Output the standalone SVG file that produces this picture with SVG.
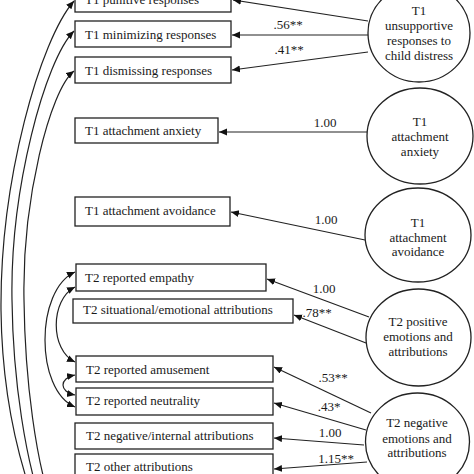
<svg xmlns="http://www.w3.org/2000/svg" width="474" height="474" viewBox="0 0 474 474">
<defs>
<marker id="ah" markerUnits="userSpaceOnUse" markerWidth="9" markerHeight="8" refX="8" refY="3.5" orient="auto-start-reverse" viewBox="0 0 9 8">
<path d="M0,0 L8,3.5 L0,7 z" fill="#111"/>
</marker>
</defs>
<style>
.box{fill:#fff;stroke:#222;stroke-width:1.3}
.lat{fill:#fff;stroke:#222;stroke-width:1.3}
.t{font-family:"Liberation Serif","Times New Roman",serif;font-size:13px;fill:#1a1a1a}
.c{text-anchor:middle}
.ln{fill:none;stroke:#222;stroke-width:1.2}
.one{marker-end:url(#ah)}
.two{marker-start:url(#ah);marker-end:url(#ah)}
</style>
<rect width="474" height="474" fill="#fff"/>

<g id="connectors">
<!-- loadings -->
<path class="ln one" d="M368,21 L233,0"/>
<path class="ln one" d="M368,35 L232,35"/>
<path class="ln one" d="M368,52 L232,70"/>
<path class="ln one" d="M367,132 L219,132"/>
<path class="ln one" d="M365,240 L231,212"/>
<path class="ln one" d="M369,317 L267,279"/>
<path class="ln one" d="M366,343 L294,315"/>
<path class="ln one" d="M371,413 L274,367"/>
<path class="ln one" d="M366,430 L274,403"/>
<path class="ln one" d="M364,445 L274,438"/>
<path class="ln one" d="M367,462 L274,469"/>
<!-- covariances -->
<path class="ln" d="M74,1 C40,40 0,180 1,310 C2,400 20,460 30,490" marker-start="url(#ah)"/>
<path class="ln" d="M74,31 C45,60 10,190 12,300 C13,390 28,460 37,490" marker-start="url(#ah)"/>
<path class="ln" d="M74,71 C50,90 22,200 24,300 C25,390 38,460 47,490" marker-start="url(#ah)"/>
<path class="ln two" d="M75,272 C35,290 35,390 75,407"/>
<path class="ln two" d="M75,287 C50,300 50,350 75,362"/>
<path class="ln two" d="M75,375 C59,378 59,392 75,395"/>
<!-- labels -->
<text class="t c" x="288" y="29">.56**</text>
<text class="t c" x="289" y="54">.41**</text>
<text class="t c" x="325" y="127">1.00</text>
<text class="t c" x="326" y="224">1.00</text>
<text class="t c" x="324" y="293">1.00</text>
<text class="t c" x="317" y="317">.78**</text>
<text class="t c" x="333" y="382">.53**</text>
<text class="t c" x="329" y="411">.43*</text>
<text class="t c" x="330" y="437">1.00</text>
<text class="t c" x="336" y="463">1.15**</text>
</g>

<g id="n-punitive"><rect class="box" x="75" y="-14" width="156" height="26"/><text class="t" x="85" y="4">T1 punitive responses</text></g>
<g id="n-minimizing"><rect class="box" x="75" y="21" width="156" height="26"/><text class="t" x="85" y="39">T1 minimizing responses</text></g>
<g id="n-dismissing"><rect class="box" x="75" y="57" width="156" height="26"/><text class="t" x="85" y="75">T1 dismissing responses</text></g>
<g id="n-anxiety"><rect class="box" x="75" y="118" width="143" height="25"/><text class="t" x="85" y="135">T1 attachment anxiety</text></g>
<g id="n-avoidance"><rect class="box" x="75" y="197" width="155" height="29"/><text class="t" x="85" y="215">T1 attachment avoidance</text></g>
<g id="n-empathy"><rect class="box" x="76" y="264" width="190" height="27"/><text class="t" x="85" y="282">T2 reported empathy</text></g>
<g id="n-situational"><rect class="box" x="73" y="299" width="220" height="24"/><text class="t" x="83" y="314">T2 situational/emotional attributions</text></g>
<g id="n-amusement"><rect class="box" x="76" y="356" width="197" height="26"/><text class="t" x="86" y="374">T2 reported amusement</text></g>
<g id="n-neutrality"><rect class="box" x="76" y="388" width="197" height="27"/><text class="t" x="86" y="405">T2 reported neutrality</text></g>
<g id="n-neginternal"><rect class="box" x="75" y="423" width="198" height="26"/><text class="t" x="86" y="440">T2 negative/internal attributions</text></g>
<g id="n-other"><rect class="box" x="75" y="454" width="198" height="30"/><text class="t" x="86" y="471">T2 other attributions</text></g>

<g id="l-unsupportive"><ellipse class="lat" cx="419" cy="33" rx="51" ry="49"/>
<text class="t c" x="419" y="15">T1</text><text class="t c" x="419" y="30">unsupportive</text><text class="t c" x="419" y="45">responses to</text><text class="t c" x="419" y="60">child distress</text></g>
<g id="l-anxiety"><ellipse class="lat" cx="420" cy="136" rx="53" ry="48"/>
<text class="t c" x="420" y="126">T1</text><text class="t c" x="420" y="141">attachment</text><text class="t c" x="420" y="156">anxiety</text></g>
<g id="l-avoidance"><ellipse class="lat" cx="418" cy="235" rx="53" ry="47"/>
<text class="t c" x="418" y="227">T1</text><text class="t c" x="418" y="242">attachment</text><text class="t c" x="418" y="256">avoidance</text></g>
<g id="l-positive"><ellipse class="lat" cx="418.5" cy="337.5" rx="52.5" ry="48.5"/>
<text class="t c" x="418" y="326">T2 positive</text><text class="t c" x="418" y="341">emotions and</text><text class="t c" x="418" y="356">attributions</text></g>
<g id="l-negative"><ellipse class="lat" cx="417.5" cy="442" rx="52" ry="49"/>
<text class="t c" x="417" y="427">T2 negative</text><text class="t c" x="417" y="443">emotions and</text><text class="t c" x="417" y="457">attributions</text></g>
</svg>
